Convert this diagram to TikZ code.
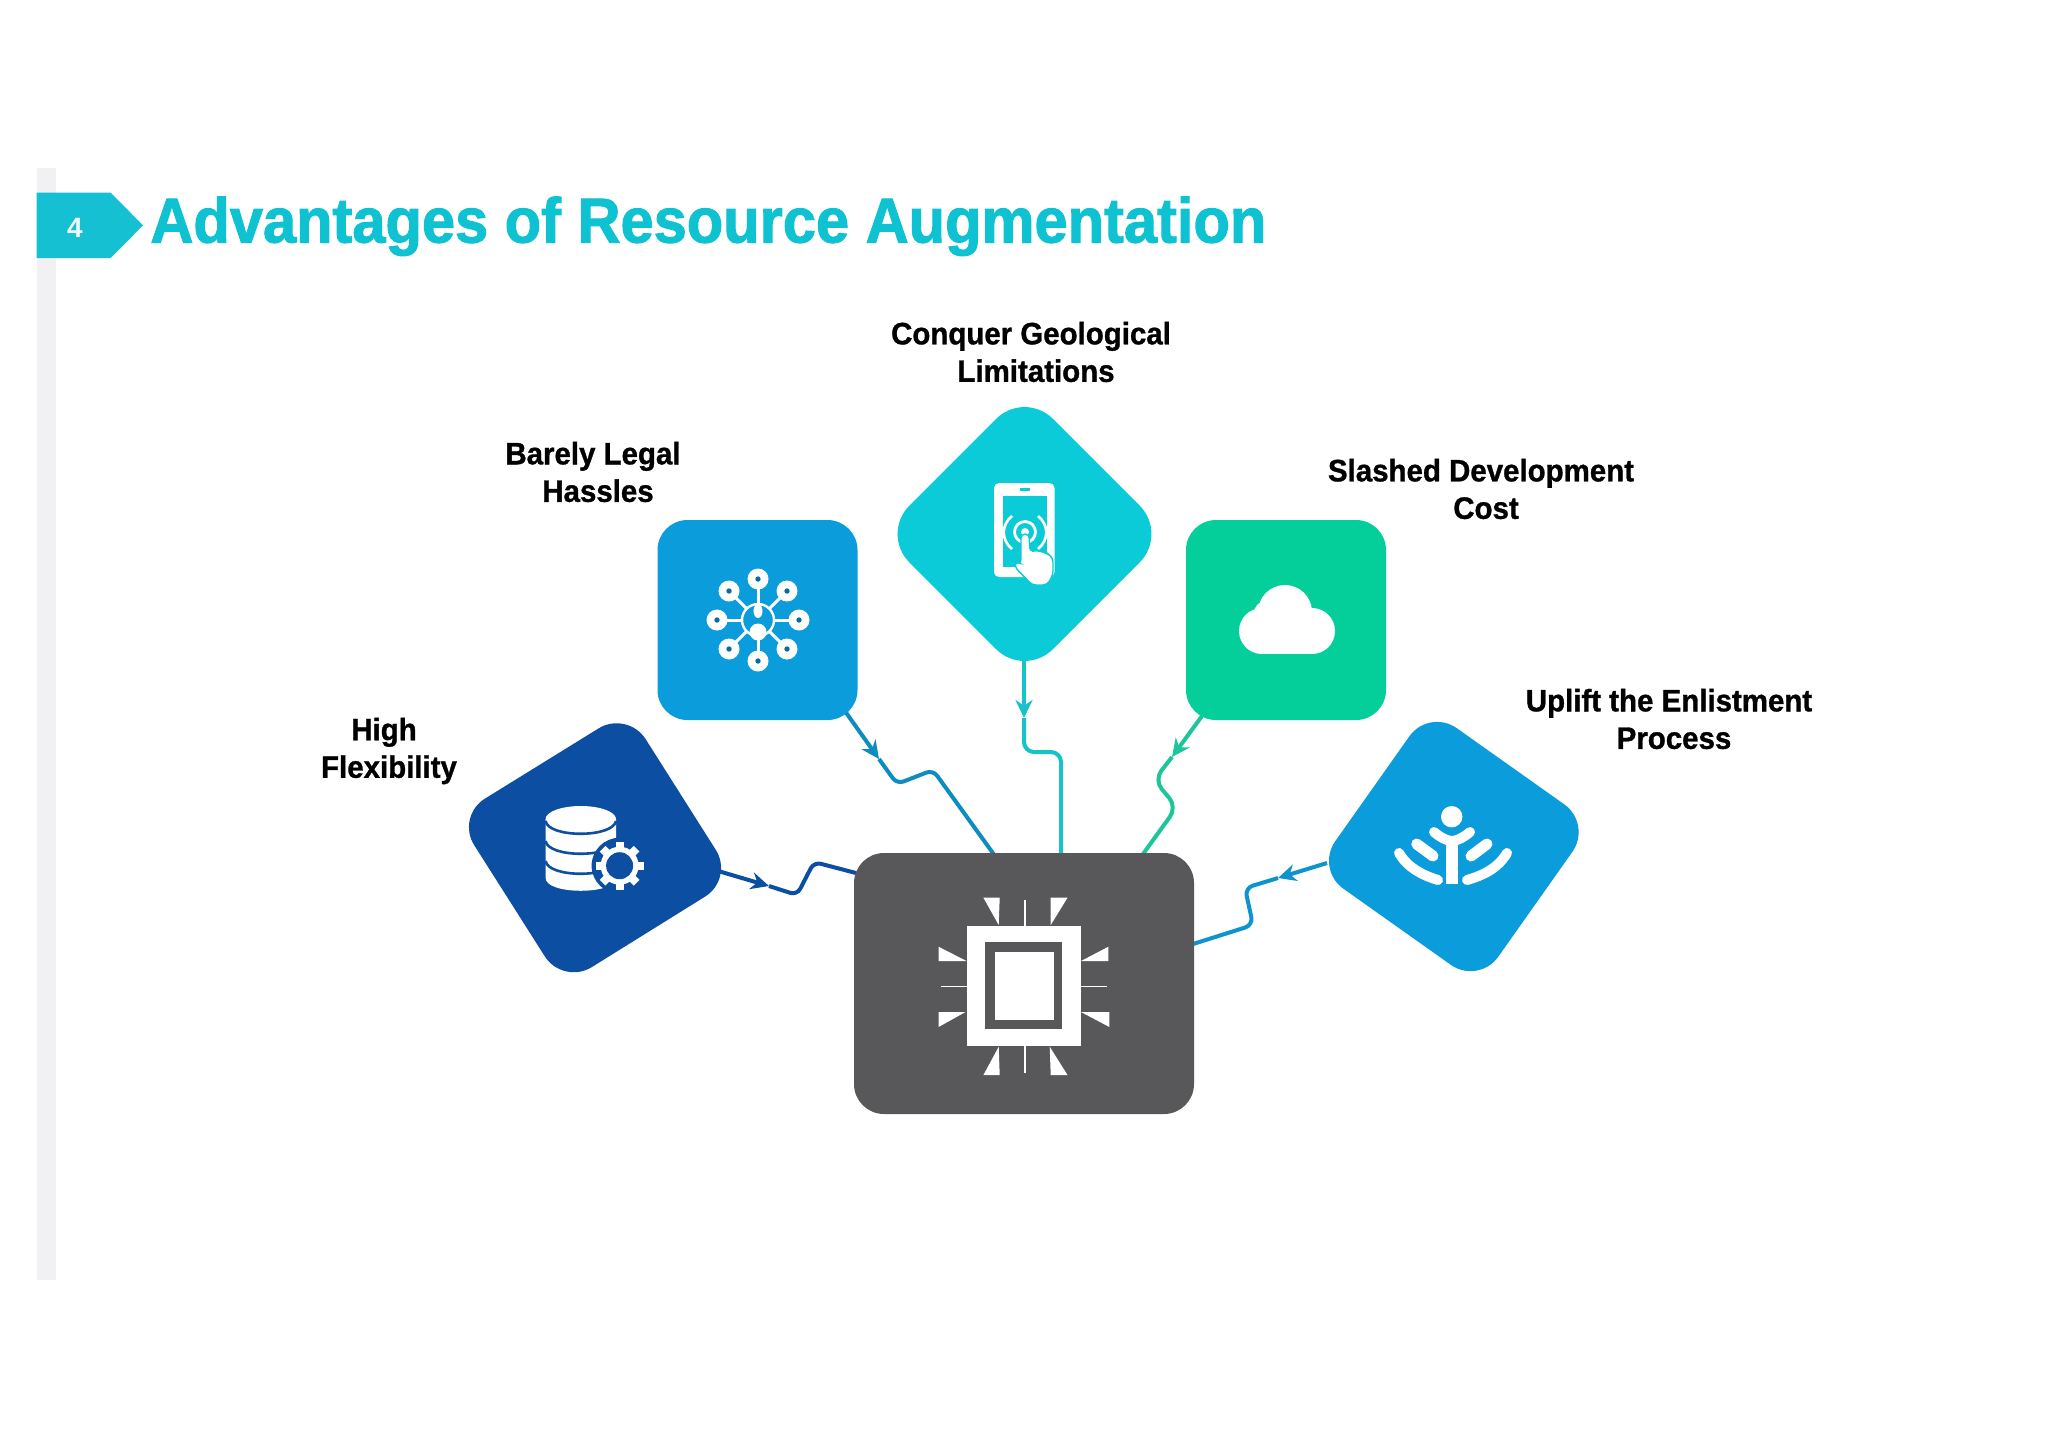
\documentclass[tikz,border=0pt]{standalone}
\usepackage{fontspec}
\setmainfont{Liberation Sans}
\newfontfamily\heavytitle{Liberation Sans}[UprightFont=* Bold,FakeBold=1.6,FakeStretch=0.94]
\newfontfamily\heavylabel{Liberation Sans}[UprightFont=* Bold,FakeBold=1.0,FakeStretch=0.95]
\usetikzlibrary{arrows.meta}
\definecolor{cDark}{HTML}{0B4EA2}
\definecolor{cBlue}{HTML}{0A9CDB}
\definecolor{cTeal}{HTML}{0BCBD8}
\definecolor{cGreen}{HTML}{04CF9A}
\definecolor{cGrey}{HTML}{58585A}
\definecolor{cBar}{HTML}{F1F1F3}
\definecolor{cBadge}{HTML}{14C0D2}
\definecolor{cTitle}{HTML}{0FC2D2}
\definecolor{lDark}{HTML}{0B4EA2}
\definecolor{lBlue}{HTML}{0E8CC0}
\definecolor{lTeal}{HTML}{17C2C9}
\definecolor{lGreen}{HTML}{1CC69A}
\definecolor{lRight}{HTML}{0D93CE}
\tikzset{
  sq/.style={rectangle,rounded corners=15pt,minimum width=100pt,minimum height=100pt,inner sep=0pt},
  diam/.style={rounded corners=17pt},
  conn/.style={line width=2pt,rounded corners=3.5pt},
  tipped/.style={line width=2pt,-{Stealth[length=9pt,width=8.5pt]}},
  lab/.style={align=center,font=\heavylabel\fontsize{15.5}{18.75}\selectfont,text=black,inner sep=0pt},
}
\begin{document}
\begin{tikzpicture}[x=0.5pt,y=-0.5pt]
\useasboundingbox (0,0) rectangle (2048,1447);
\fill[white] (0,0) rectangle (2048,1447);
% side bar and badge
\fill[cBar] (36.7,168) rectangle (56,1280);
\fill[cBadge] (36.7,192.7) -- (110.7,192.7) -- (143,225.4) -- (110.7,258) -- (36.7,258) -- cycle;
\node[text=white!92!cBadge,font=\bfseries\fontsize{14}{16}\selectfont,inner sep=0pt] (num) at (75,227.5) {4};
\node[anchor=base west,inner sep=0pt,text=cTitle,font=\heavytitle\fontsize{31.7}{36}\selectfont] (title) at (150,242.5) {Advantages of Resource Augmentation};

% anchors on the diamonds and the chip box
\coordinate (dbT) at (627.5,710.5); \coordinate (dbR) at (734,878.6);
\coordinate (dbB) at (563,985); \coordinate (dbL) at (456,816.5);
\coordinate (tT) at (1024.5,390.5); \coordinate (tR) at (1168,534);
\coordinate (tB) at (1024.5,677.5); \coordinate (tL) at (881,534);
\coordinate (rT) at (1429,708.5); \coordinate (rR) at (1592,824);
\coordinate (rB) at (1478.6,984.5); \coordinate (rL) at (1315.6,869);

\coordinate (s1) at (720.6,871.7); \coordinate (e1) at (856,873);
\coordinate (s2) at (845.6,712); \coordinate (e2) at (993.6,854);
\coordinate (s3) at (1024,661); \coordinate (e3) at (1061,854);
\coordinate (s4) at (1202,716); \coordinate (e4) at (1143,854);
\coordinate (s5) at (1327,863); \coordinate (e5) at (1193,944);
\coordinate (a1) at (769,886); \coordinate (a2) at (879,759);
\coordinate (a3) at (1024,718); \coordinate (a4) at (1172,757);
\coordinate (a5) at (1278,878);

% connectors
\draw[conn,draw=lDark] (a1) -- (797,895) -- (814,862) -- (e1);
\draw[tipped,draw=lDark] (s1) -- (a1);
\draw[conn,draw=lBlue] (a2) -- (897,784) -- (933,770) -- (e2);
\draw[tipped,draw=lBlue] (s2) -- (a2);
\draw[conn,draw=lTeal,rounded corners=5pt] (a3) -- (1024,752) -- (1061,752) -- (e3);
\draw[tipped,draw=lTeal] (s3) -- (a3);
\draw[conn,draw=lGreen,rounded corners=6pt] (a4) -- (1154,780) -- (1177,807) -- (e4);
\draw[tipped,draw=lGreen] (s4) -- (a4);
\draw[conn,draw=lRight,rounded corners=4pt] (a5) -- (1245,888) -- (1253,925) -- (e5);
\draw[tipped,draw=lRight] (s5) -- (a5);

% shapes
\node[sq,fill=cGrey,minimum width=170pt,minimum height=130.5pt] (chipbox) at (1024,983.5) {};
\node[sq,fill=cBlue] (legal) at (757.5,620) {};
\node[sq,fill=cGreen] (cost) at (1286,620) {};
\fill[diam,cDark] (dbT) -- (dbR) -- (dbB) -- (dbL) -- cycle;
\fill[cTeal,rounded corners=20pt] (tT) -- (tR) -- (tB) -- (tL) -- cycle;
\fill[diam,cBlue] (rT) -- (rR) -- (rB) -- (rL) -- cycle;

% chip icon
\fill[white] (966.5,925.7) rectangle (1081,1046);
\fill[cGrey] (985,942) rectangle (1062.4,1029);
\fill[white] (994.6,951.7) rectangle (1053.8,1020);
\draw[white,line width=.8pt] (1024.7,900) -- (1024.7,925.7) (1024.7,1046) -- (1024.7,1072.7)
   (941,986.3) -- (966.5,986.3) (1081,986.3) -- (1107,986.3);
\fill[white] (983.4,897.7) -- (999.7,897.7) -- (998.7,925) -- cycle;
\fill[white] (1050.7,897.7) -- (1067.5,897.7) -- (1050.7,925) -- cycle;
\fill[white] (998.7,1046.7) -- (983.4,1075) -- (999.7,1075) -- cycle;
\fill[white] (1049.7,1046.7) -- (1050.7,1075) -- (1067.5,1075) -- cycle;
\fill[white] (938.5,946.7) -- (938.5,961) -- (966.5,961) -- cycle;
\fill[white] (1108.4,946.7) -- (1108.4,961) -- (1081,961) -- cycle;
\fill[white] (938.5,1012) -- (938.5,1027) -- (965.5,1012) -- cycle;
\fill[white] (1109.4,1012) -- (1109.4,1027) -- (1081,1012) -- cycle;

% database icon
\fill[white] (545.6,819) -- (545.6,878) .. controls (545.6,895) and (616,895) .. (616,878) -- (616,819) -- cycle;
\fill[white] (580.8,819) ellipse [x radius=35.2,y radius=13];
\draw[cDark,line width=1.3pt] (545.6,821) .. controls (548,838) and (613,838) .. (616,821);
\draw[cDark,line width=1.3pt] (545.6,841) .. controls (548,858) and (613,858) .. (616,841);
\draw[cDark,line width=1.3pt] (545.6,861) .. controls (548,878) and (613,878) .. (616,861);
\fill[cDark] (619.6,865.7) circle [radius=28];
\foreach \a in {0,45,...,315}{
  \fill[white,rotate around={\a:(619.6,865.7)}] (615.6,841.7) rectangle (623.6,850);
}
\fill[white] (619.6,865.7) circle [radius=19];
\fill[cDark] (619.6,865.7) circle [radius=13.5];

% network icon
\foreach \a in {0,45,...,315}{
  \draw[white,line width=1.5pt] (758,620) -- ++(\a:41);
  \fill[white] (758,620) ++(\a:41) circle [radius=10.5];
  \fill[cBlue!70!black] (758,620) ++(\a:41) circle [radius=2.7];
}
\fill[cBlue] (758,620) circle [radius=16];
\draw[white,line width=1.2pt] (758,620) circle [radius=16];
\fill[white] (758,611) circle [x radius=4.5,y radius=7];
\fill[white] (758,632) circle [radius=8.5];

% phone icon
\fill[white,rounded corners=2.5pt] (994,483) rectangle (1054.5,577);
\fill[cTeal] (1002.6,496) rectangle (1047,567);
\fill[cTeal] (1020,488) rectangle (1030,490.5);
\draw[white,line width=1.4pt] (1025,532) circle [radius=10.5];
\fill[white] (1025,532) circle [radius=4];
\draw[white,line width=1.3pt] (1012,516) .. controls (1001,525) and (1001,540) .. (1012,549);
\draw[white,line width=1.3pt] (1038,516) .. controls (1049,525) and (1049,540) .. (1038,549);
\fill[white,draw=cTeal,line width=.7pt,rounded corners=2pt] (1021,534) -- (1029,534) -- (1030,552) -- (1036,550) -- (1042,552) -- (1047,553) -- (1053,558) -- (1053,575) -- (1047,585) -- (1032,585) -- (1014,566) -- (1017,561) -- (1021,564) -- cycle;

% cloud icon
\fill[white] (1285,612) circle [radius=27];
\fill[white] (1262,631) circle [radius=23];
\fill[white] (1312,631) circle [radius=23];
\fill[white] (1266,613) circle [radius=12];
\fill[white] (1262,625) rectangle (1312,654);

% people icon
\fill[white] (1451.7,816.7) circle [radius=10.7];
\draw[white,line width=5pt,line cap=round,line join=round] (1434,832) .. controls (1441,838) and (1448,841) .. (1452,841) .. controls (1456,841) and (1463,838) .. (1470,832);
\fill[white] (1445.7,838) rectangle (1458,884);
\draw[white,line width=5.5pt,line cap=round] (1416.7,844) -- (1433,856);
\draw[white,line width=5.5pt,line cap=round] (1487,844) -- (1471,856);
\draw[white,line width=5pt,line cap=round] (1399,853) .. controls (1408,868) and (1422,875) .. (1438,880);
\draw[white,line width=5pt,line cap=round] (1507,853) .. controls (1498,868) and (1484,875) .. (1467,880);

% labels
\node[lab] (l1) at (384,751) {High\\\hspace*{5pt}Flexibility};
\node[lab] (l2) at (593,472) {Barely Legal\\\hspace*{5pt}Hassles};
\node[lab] (l3) at (1031,352) {Conquer Geological\\\hspace*{5pt}Limitations};
\node[lab] (l4) at (1481,489) {Slashed Development\\\hspace*{5pt}Cost};
\node[lab] (l5) at (1669,719) {Uplift the Enlistment\\\hspace*{5pt}Process};
\end{tikzpicture}
\end{document}
